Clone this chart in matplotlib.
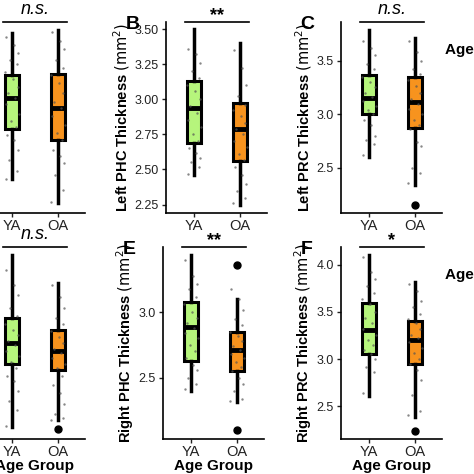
import matplotlib.pyplot as plt

groups = ["YA", "OA"]
colors = ["#b6f57c", "#f7931e"]

# box stats per panel: (whislo, q1, med, q3, whishi, fliers) for YA, OA
stats = {
    "A1": [(0.18, 0.44, 0.60, 0.72, 0.94, []), (0.05, 0.38, 0.55, 0.73, 0.96, [])],
    "B": [(2.46, 2.69, 2.94, 3.13, 3.50, []), (2.25, 2.56, 2.79, 2.97, 3.40, [])],
    "C": [(2.60, 3.00, 3.15, 3.37, 3.79, []), (2.34, 2.87, 3.11, 3.35, 3.71, [2.15])],
    "A2": [(0.06, 0.39, 0.50, 0.63, 0.96, []), (0.10, 0.36, 0.46, 0.57, 0.81, [0.05])],
    "E": [(2.40, 2.63, 2.89, 3.08, 3.44, []), (2.31, 2.55, 2.71, 2.85, 3.10, [3.36, 2.10])],
    "F": [(2.61, 3.05, 3.31, 3.60, 4.11, []), (2.38, 2.95, 3.20, 3.40, 3.82, [2.24])],
}

points = {
    "A1": [[0.92, 0.88, 0.84, 0.80, 0.78, 0.74, 0.70, 0.66, 0.63, 0.60, 0.57, 0.52, 0.48, 0.45, 0.41, 0.38, 0.33, 0.28, 0.22, 0.18],
           [0.95, 0.90, 0.86, 0.80, 0.76, 0.72, 0.68, 0.63, 0.58, 0.55, 0.51, 0.46, 0.42, 0.38, 0.33, 0.30, 0.26, 0.20, 0.12, 0.06]],
    "B": [[3.36, 3.32, 3.26, 3.20, 3.15, 3.10, 3.06, 3.00, 2.95, 2.90, 2.85, 2.80, 2.75, 2.70, 2.65, 2.62, 2.58, 2.55, 2.52, 2.47],
          [3.35, 3.22, 3.10, 3.02, 2.96, 2.92, 2.88, 2.83, 2.79, 2.75, 2.70, 2.66, 2.61, 2.57, 2.52, 2.46, 2.40, 2.35, 2.30, 2.26]],
    "C": [[3.68, 3.62, 3.55, 3.47, 3.42, 3.35, 3.30, 3.25, 3.20, 3.16, 3.12, 3.08, 3.04, 3.00, 2.95, 2.90, 2.80, 2.76, 2.72, 2.62],
          [3.68, 3.58, 3.50, 3.42, 3.38, 3.32, 3.26, 3.20, 3.14, 3.10, 3.05, 3.00, 2.95, 2.90, 2.86, 2.74, 2.70, 2.50, 2.45, 2.36]],
    "A2": [[0.88, 0.80, 0.75, 0.68, 0.64, 0.60, 0.57, 0.54, 0.51, 0.49, 0.46, 0.43, 0.40, 0.37, 0.33, 0.30, 0.25, 0.20, 0.15, 0.07],
           [0.80, 0.74, 0.68, 0.63, 0.60, 0.56, 0.53, 0.50, 0.47, 0.45, 0.42, 0.39, 0.37, 0.33, 0.28, 0.24, 0.18, 0.13, 0.11, 0.10]],
    "E": [[3.40, 3.28, 3.22, 3.18, 3.12, 3.06, 3.00, 2.96, 2.92, 2.88, 2.84, 2.80, 2.75, 2.70, 2.65, 2.60, 2.56, 2.50, 2.45, 2.41],
          [3.18, 3.10, 3.02, 2.95, 2.90, 2.85, 2.82, 2.78, 2.74, 2.71, 2.68, 2.65, 2.62, 2.58, 2.55, 2.50, 2.45, 2.40, 2.34, 2.32]],
    "F": [[4.08, 3.92, 3.85, 3.78, 3.70, 3.64, 3.58, 3.50, 3.44, 3.38, 3.32, 3.26, 3.20, 3.15, 3.10, 3.05, 3.00, 2.92, 2.86, 2.64],
          [3.80, 3.72, 3.62, 3.55, 3.48, 3.42, 3.38, 3.32, 3.26, 3.22, 3.18, 3.12, 3.06, 3.00, 2.95, 2.88, 2.78, 2.62, 2.45, 2.40]],
}

ylabels = {"A1": None, "B": "Left PHC Thickness", "C": "Left PRC Thickness",
           "A2": None, "E": "Right PHC Thickness", "F": "Right PRC Thickness"}
ylims = {"A1": (0, 1), "B": (2.19, 3.55), "C": (2.08, 3.86),
         "A2": (0, 1), "E": (2.03, 3.50), "F": (2.15, 4.19)}
yticks = {"A1": [], "B": [2.25, 2.5, 2.75, 3.0, 3.25, 3.5], "C": [2.5, 3.0, 3.5],
          "A2": [], "E": [2.5, 3.0], "F": [2.5, 3.0, 3.5, 4.0]}
ytickfmt = {"B": "{:.2f}", "C": "{:.1f}", "E": "{:.1f}", "F": "{:.1f}"}
signif = {"A1": "n.s.", "B": "**", "C": "n.s.", "A2": "n.s.", "E": "**", "F": "*"}
letters = {"B": "B", "C": "C", "E": "E", "F": "F"}

# pixel layout: left, top, bottom
layout = {"A1": (-16, 22, 213), "B": (166, 22, 213), "C": (341, 22, 213),
          "A2": (-16, 247, 439), "E": (163, 247, 439), "F": (341, 247, 439)}
W = 474
jit = [-0.12, 0.05, 0.14, -0.04, 0.10, -0.15, 0.02, 0.12, -0.08, 0.07,
       -0.13, 0.15, -0.02, 0.09, -0.10, 0.04, 0.13, -0.06, 0.11, -0.14]

fig = plt.figure(figsize=(4.74, 4.74), dpi=100)
plt.rcParams['font.family'] = 'Liberation Sans'

for key, (lx, ty, by) in layout.items():
    ax = fig.add_axes([lx / W, (W - by) / W, 101 / W, (by - ty) / W])
    bx = []
    for g, s in zip(groups, stats[key]):
        bx.append(dict(label=g, whislo=s[0], q1=s[1], med=s[2], q3=s[3], whishi=s[4], fliers=s[5]))
    res = ax.bxp(bx, positions=[1, 2], widths=0.3, patch_artist=True, showcaps=False,
                 boxprops=dict(linewidth=2.2, edgecolor="black"),
                 medianprops=dict(color="black", linewidth=3.5),
                 whiskerprops=dict(linewidth=2.5, color="black"),
                 flierprops=dict(marker="o", markerfacecolor="black", markeredgecolor="black", markersize=5))
    for patch, c in zip(res["boxes"], colors):
        patch.set_facecolor(c)
        patch.set_zorder(1)
    for i, vals in enumerate(points[key]):
        xs = [i + 1 + jit[j % len(jit)] for j in range(len(vals))]
        ax.scatter(xs, vals, s=3, color="#555555", alpha=0.7, zorder=3, linewidths=0)
    ax.set_xlim(0.39, 2.59)
    ax.set_ylim(*ylims[key])
    ax.set_yticks(yticks[key])
    if key in ytickfmt:
        ax.set_yticklabels([ytickfmt[key].format(t) for t in yticks[key]])
    ax.spines["top"].set_visible(False)
    ax.spines["right"].set_visible(False)
    ax.spines["left"].set_linewidth(1.2)
    ax.spines["bottom"].set_linewidth(1.2)
    ax.tick_params(axis="y", labelsize=9, width=1, length=3, pad=2, colors="#222222")
    ax.tick_params(axis="x", labelsize=10.5, width=1, length=3, pad=1, colors="#222222")
    ax.set_xticklabels(groups)
    if ylabels[key]:
        ax.set_ylabel(ylabels[key] + r" $\left(\mathrm{mm}^2\right)$", fontsize=10.5,
                      fontweight="bold", labelpad=2)
    if key in ("A2", "E", "F"):
        ax.set_xlabel("Age Group", fontsize=11, fontweight="bold", labelpad=0)
    y0, y1 = ylims[key]
    ybar = y1
    ax.plot([0.8, 2.2], [ybar, ybar], color="black", linewidth=1.2, clip_on=False)
    if signif[key] == "n.s.":
        ax.text(1.5, ybar + 0.02 * (y1 - y0), "n.s.", ha="center", va="bottom", fontsize=13, style="italic")
    else:
        ax.text(1.5, ybar - 0.01 * (y1 - y0), signif[key], ha="center", va="bottom", fontsize=13, fontweight="bold")
    if key in letters:
        ax.text(-0.40, 1.03, letters[key], transform=ax.transAxes, fontsize=14, fontweight="bold", va="top")

fig.text(445 / W, 1 - 50 / W, "Age Group", fontsize=11, fontweight="bold", va="center")
fig.text(445 / W, 1 - 275 / W, "Age Group", fontsize=11, fontweight="bold", va="center")

fig.savefig("out.png", dpi=100)
